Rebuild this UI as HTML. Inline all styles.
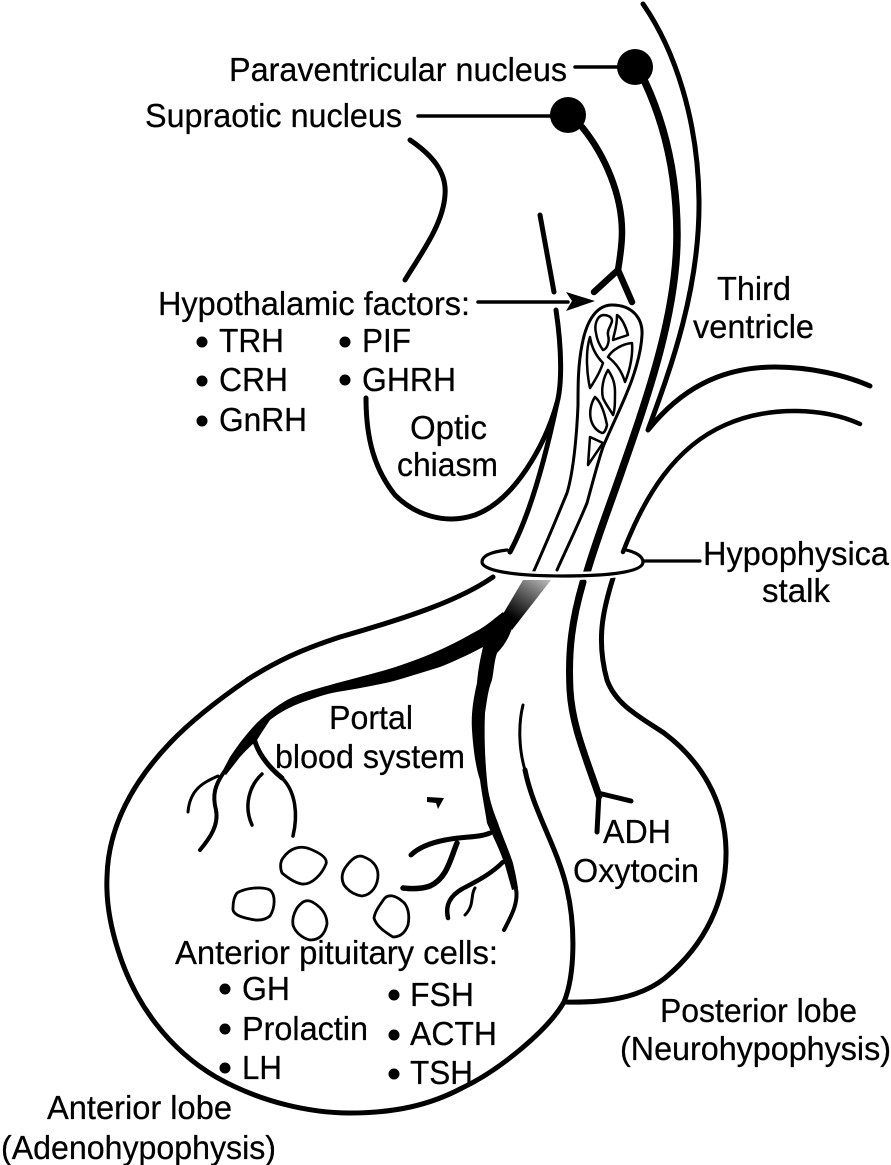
<!DOCTYPE html>
<html><head><meta charset="utf-8"><style>
html,body{margin:0;padding:0;background:#fff}
svg{display:block}
text{font-family:"Liberation Sans",sans-serif;font-size:33px;fill:#000;stroke:#000;stroke-width:.25}
.l{fill:none;stroke:#000;stroke-linecap:round;stroke-linejoin:round}
</style></head><body>
<svg width="891" height="1165" viewBox="0 0 891 1165" xmlns="http://www.w3.org/2000/svg">
<defs><linearGradient id="g" gradientUnits="userSpaceOnUse" x1="545" y1="572" x2="510" y2="628">
<stop offset="0" stop-color="#ccc"/><stop offset=".4" stop-color="#666"/><stop offset=".85" stop-color="#000"/></linearGradient></defs>

<!-- outer third ventricle wall -->
<path class="l" stroke-width="5" d="M643,4 C675,50 698,120 699,200 C700,290 670,370 648,430 C680,390 720,367 775,367 C810,367 845,375 870,386"/>
<!-- lower ventricle into posterior lobe -->
<path class="l" stroke-width="4.5" d="M860,424 C825,408 770,405 725,425 C675,447 645,495 623,552"/>
<path class="l" stroke-width="5" d="M613,578 C603,610 596,640 607,680 C616,705 640,717 664,733 C700,760 725,800 726,850 C727,900 705,945 665,978 C640,998 605,1003 564,1002"/>
<!-- long axon -->
<path class="l" stroke-width="7.5" d="M645,82 C665,125 677,175 677,235 C677,310 650,390 623,467 C610,505 598,535 587,572"/>
<path class="l" stroke-width="7" d="M583,582 C572,620 568,650 570,690 C572,725 585,755 599,796"/>
<path class="l" stroke-width="5" d="M598,793 L631,801 M599,794 L597,832"/>
<!-- supraoptic axon -->
<path class="l" stroke-width="6.5" d="M582,127 C605,155 622,195 622,232 C622,245 620,258 618,270"/>
<path class="l" stroke-width="6.5" d="M618,270 L594,292 M618,270 L632,302"/>
<!-- nuclei -->
<circle cx="635" cy="67" r="18"/>
<circle cx="568" cy="115" r="18"/>
<path class="l" stroke-width="3.5" d="M575,67 H625 M418,116 H555"/>
<!-- third ventricle left curve -->
<path class="l" stroke-width="5" d="M410,140 C432,155 447,172 445,195 C443,225 420,255 405,280"/>
<!-- anterior wall and arrow -->
<path class="l" stroke-width="5" d="M540,215 L554,292"/>
<path class="l" stroke-width="5" d="M556,310 C562,350 562,385 557,403 C545,460 530,515 510,552"/>
<path class="l" stroke-width="5" d="M366,398 C366,440 375,470 395,495 C415,515 445,525 475,515 C515,500 545,445 557,403"/>
<path class="l" stroke-width="3.5" d="M478,302 H568"/>
<polygon points="566,292 595,301 566,311 572,301"/>
<!-- teardrop and stalk lines -->
<path class="l" stroke-width="3" d="M533,573 C550,535 562,505 567,493 C574,470 577,430 578,405 C578,385 578,365 582,345 C587,318 598,305 612,305 C632,305 643,318 642,335 C641,355 633,378 628,390 C620,410 610,430 603,447 C597,465 592,485 587,503 C578,525 566,550 557,570"/>
<g class="l" stroke-width="2.5">
<path class="l" stroke-width="2.5" d="M603,315 C608,315 612,317 612,321 C611,326 607,330 608,335 C610,342 607,349 603,350 C600,346 597,340 596,333 C594,325 597,316 603,315Z"/>
<path class="l" stroke-width="2.5" d="M617,315 C622,318 626,327 628,335 L613,340 C614,333 617,328 617,315Z"/>
<path class="l" stroke-width="2.5" d="M632,343 C633,355 630,370 625,382 C622,372 616,363 608,357 C612,350 622,344 632,343Z"/>
<path class="l" stroke-width="2.5" d="M590,337 C592,350 598,358 603,363 C600,372 594,382 590,388 C587,375 585,352 590,337Z"/>
<path class="l" stroke-width="2.5" d="M608,370 C612,376 615,382 615,392 C615,402 615,410 613,415 C609,408 605,403 603,398 C601,390 603,378 608,370Z"/>
<path class="l" stroke-width="2.5" d="M595,397 C600,401 604,410 607,425 C606,430 604,433 602,433 C597,431 593,427 591,420 C589,412 591,403 595,397Z"/>
<path class="l" stroke-width="2.5" d="M590,437 L603,443 L588,465Z"/>
</g>
<!-- anterior lobe outline -->
<path class="l" stroke-width="5" d="M493,577 C460,600 410,617 340,637 C300,650 275,662 247,680 C215,702 190,722 170,743 C130,785 108,830 107,877 C106,900 110,925 118,950 C135,1005 170,1050 216,1077 C260,1102 310,1113 350,1113 C395,1113 430,1105 462,1088 C500,1070 548,1030 564,1002 C575,975 576,925 566,885 C556,845 533,810 525,770"/>
<path class="l" stroke-width="3" d="M525,770 C519,750 518,725 523,705"/>
<!-- portal system -->
<path d="M523,580 L551,580 L512,630 L503,614 Z" fill="url(#g)"/>
<path d="M503,612 C490,622 485,627 473,633 C450,646 430,655 407,663 C385,671 360,677 337,683 C320,688 302,692 287,700 C275,707 262,717 253,727 C243,738 236,748 230,757 L222,772 L226,775 L240,757 C246,750 252,745 257,740 C262,732 266,726 270,720 C280,712 292,706 303,702 C315,698 325,694 337,692 C355,689 372,686 390,682 C405,678 420,673 440,667 C455,661 470,654 483,647 C480,660 478,670 477,683 C473,700 471,715 472,730 C473,745 475,765 480,780 C482,795 485,810 487,823 C492,835 498,845 505,865 L512,890 L518,888 C516,875 514,868 513,863 C508,848 502,835 498,823 C492,808 488,795 487,780 C485,760 484,735 485,713 C487,700 488,690 492,680 C494,670 494,662 497,653 C505,645 510,635 512,628Z"/>
<path class="l" stroke-width="4" d="M224,772 C215,785 212,795 216,810 C219,825 210,838 200,850"/>
<path class="l" stroke-width="3" d="M218,776 C205,782 190,788 188,812"/>
<path class="l" stroke-width="5" d="M254,738 C258,755 270,768 282,778"/>
<path class="l" stroke-width="3.5" d="M282,778 C296,792 298,815 293,836"/>
<path class="l" stroke-width="3.5" d="M262,774 C250,785 243,805 252,825"/>
<path class="l" stroke-width="4" d="M515,885 C520,900 512,915 504,930"/>
<path class="l" stroke-width="5" d="M490,833 C478,838 465,836 445,840 C430,843 418,848 411,855"/>
<path class="l" stroke-width="5.5" d="M457,843 C450,860 447,878 430,886 C422,889 412,889 403,888"/>
<path class="l" stroke-width="4.5" d="M503,862 C490,875 475,882 462,889 C450,896 445,905 448,918"/>
<path class="l" stroke-width="3" d="M475,888 C470,895 475,905 465,915"/>
<path d="M427,797 L444,798 L438,809 L436,803 L427,802Z"/>
<!-- cells -->
<path class="l" stroke-width="2.8" d="M283,858 C290,848 300,845 310,849 C320,853 328,858 326,864 C322,874 312,885 302,884 C295,883 288,878 282,873 C280,868 280,862 283,858Z"/>
<path class="l" stroke-width="2.8" d="M345,868 C352,858 358,854 364,857 C372,860 378,866 378,875 C378,885 372,895 362,896 C355,895 349,892 344,885 C341,879 342,873 345,868Z"/>
<path class="l" stroke-width="2.8" d="M237,893 C245,888 262,886 270,890 C276,895 275,908 270,916 C265,920 258,921 250,919 C240,917 232,914 233,908 C233,902 234,897 237,893Z"/>
<path class="l" stroke-width="2.8" d="M297,908 C303,900 308,899 314,903 C322,908 327,915 327,924 C325,934 320,940 310,940 C302,938 295,932 293,925 C292,919 294,913 297,908Z"/>
<path class="l" stroke-width="2.8" d="M384,899 C388,894 395,895 402,901 C408,905 410,915 408,925 C405,933 400,937 393,937 C385,932 376,926 374,918 C375,911 380,905 384,899Z"/>
<!-- stalk ring -->
<path d="M482,562 C482,570 510,576 563,576 C610,576 643,572 643,562" fill="none" stroke="#fff" stroke-width="8"/>
<path class="l" stroke-width="3.2" d="M507,550 C490,552 482,556 482,562 C482,570 510,576 563,576 C610,576 643,572 643,562 C643,556 635,552 626,550"/>
<path class="l" stroke-width="3.2" d="M643,561 H700"/>

<!-- labels -->
<text x="229" y="81" textLength="338" lengthAdjust="spacingAndGlyphs">Paraventricular nucleus</text>
<text x="145" y="127" textLength="257" lengthAdjust="spacingAndGlyphs">Supraotic nucleus</text>
<text x="158" y="315" textLength="312" lengthAdjust="spacingAndGlyphs">Hypothalamic factors:</text>
<text x="219" y="352" textLength="65" lengthAdjust="spacingAndGlyphs">TRH</text>
<text x="219" y="391" textLength="69" lengthAdjust="spacingAndGlyphs">CRH</text>
<text x="219" y="431" textLength="88" lengthAdjust="spacingAndGlyphs">GnRH</text>
<text x="362" y="352" textLength="49" lengthAdjust="spacingAndGlyphs">PIF</text>
<text x="362" y="391" textLength="94" lengthAdjust="spacingAndGlyphs">GHRH</text>
<text x="410" y="439" textLength="77" lengthAdjust="spacingAndGlyphs">Optic</text>
<text x="397" y="476" textLength="101" lengthAdjust="spacingAndGlyphs">chiasm</text>
<text x="717" y="300" textLength="74" lengthAdjust="spacingAndGlyphs">Third</text>
<text x="693" y="338" textLength="121" lengthAdjust="spacingAndGlyphs">ventricle</text>
<text x="703" y="565" textLength="186" lengthAdjust="spacingAndGlyphs">Hypophysica</text>
<text x="762" y="602" textLength="68" lengthAdjust="spacingAndGlyphs">stalk</text>
<text x="329" y="729" textLength="84" lengthAdjust="spacingAndGlyphs">Portal</text>
<text x="275" y="768" textLength="190" lengthAdjust="spacingAndGlyphs">blood system</text>
<text x="603" y="843" textLength="68" lengthAdjust="spacingAndGlyphs">ADH</text>
<text x="573" y="882" textLength="126" lengthAdjust="spacingAndGlyphs">Oxytocin</text>
<text x="175" y="964" textLength="323" lengthAdjust="spacingAndGlyphs">Anterior pituitary cells:</text>
<text x="242" y="1000" textLength="48" lengthAdjust="spacingAndGlyphs">GH</text>
<text x="242" y="1040" textLength="126" lengthAdjust="spacingAndGlyphs">Prolactin</text>
<text x="242" y="1079" textLength="40" lengthAdjust="spacingAndGlyphs">LH</text>
<text x="410" y="1006" textLength="64" lengthAdjust="spacingAndGlyphs">FSH</text>
<text x="410" y="1045" textLength="87" lengthAdjust="spacingAndGlyphs">ACTH</text>
<text x="410" y="1084" textLength="63" lengthAdjust="spacingAndGlyphs">TSH</text>
<text x="47" y="1119" textLength="185" lengthAdjust="spacingAndGlyphs">Anterior lobe</text>
<text x="1" y="1159" textLength="275" lengthAdjust="spacingAndGlyphs">(Adenohypophysis)</text>
<text x="660" y="1022" textLength="197" lengthAdjust="spacingAndGlyphs">Posterior lobe</text>
<text x="620" y="1060" textLength="271" lengthAdjust="spacingAndGlyphs">(Neurohypophysis)</text>
<!-- bullets -->
<g>
<circle cx="202" cy="342" r="5.5"/><circle cx="202" cy="381" r="5.5"/><circle cx="202" cy="421" r="5.5"/>
<circle cx="345" cy="342" r="5.5"/><circle cx="345" cy="380" r="5.5"/>
<circle cx="225" cy="989" r="5.5"/><circle cx="225" cy="1029" r="5.5"/><circle cx="225" cy="1068" r="5.5"/>
<circle cx="394" cy="995" r="5.5"/><circle cx="394" cy="1035" r="5.5"/><circle cx="394" cy="1074" r="5.5"/>
</g>
</svg>
</body></html>
